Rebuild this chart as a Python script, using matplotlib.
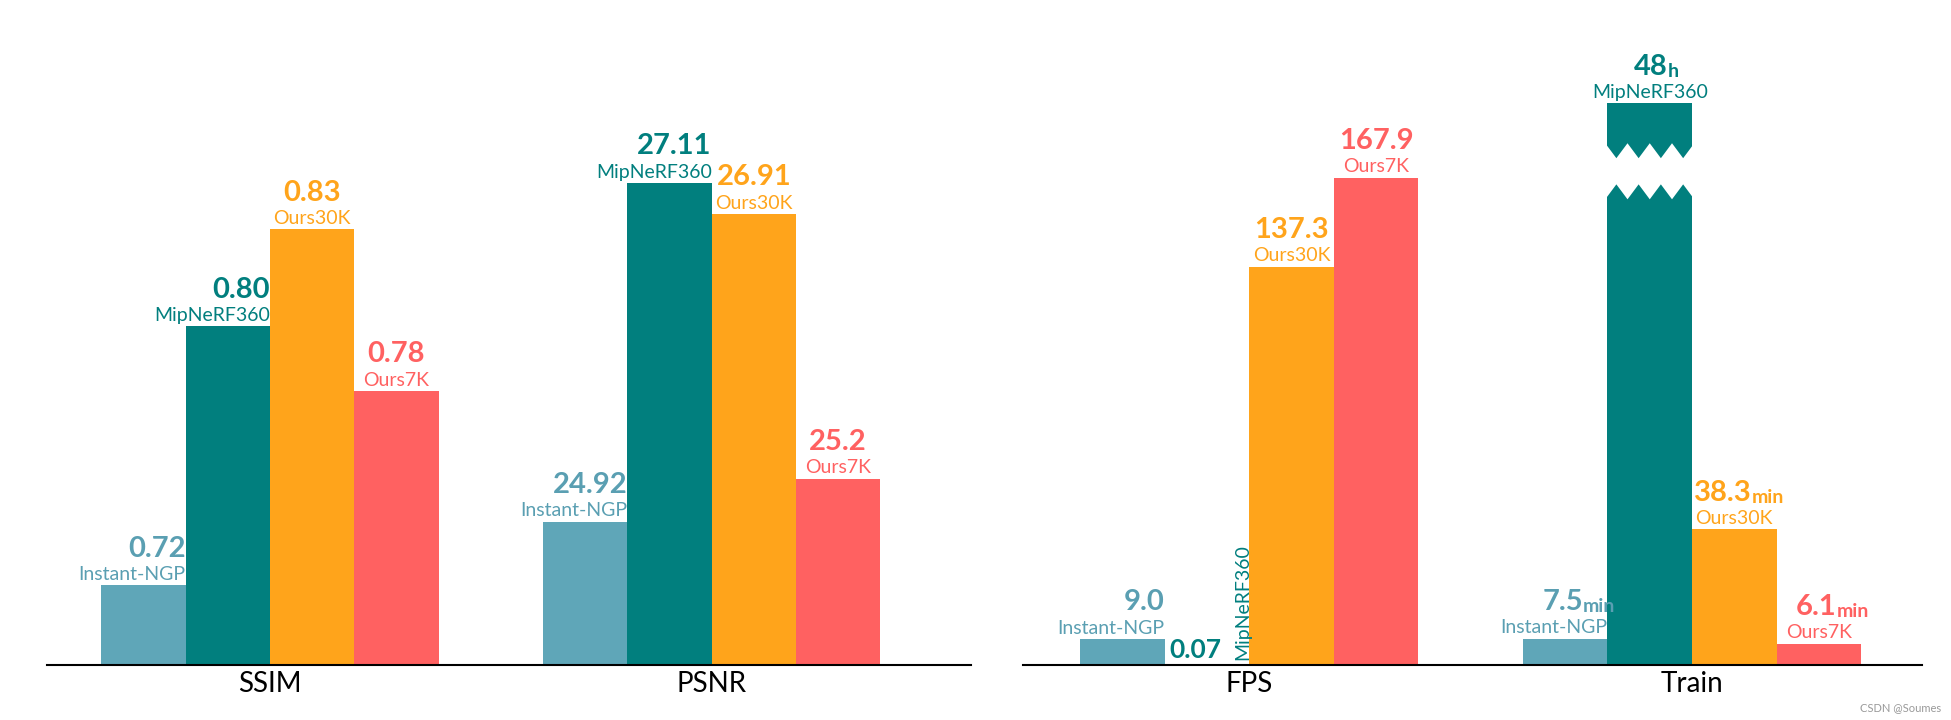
import matplotlib
matplotlib.use("Agg")
import matplotlib.pyplot as plt
from matplotlib.patches import Polygon

plt.rcParams['font.family'] = ['Lato', 'DejaVu Sans']

methods = ["Instant-NGP", "MipNeRF360", "Ours30K", "Ours7K"]
colors = ["#5fa6b8", "#017f7e", "#ffa41b", "#ff6161"]
tcolors = ["#5a9fb2", "#017f7e", "#ffa41b", "#ff6161"]

ssim = [0.72, 0.80, 0.83, 0.78]
psnr = [24.92, 27.11, 26.91, 25.2]
fps = [9.0, 0.07, 137.3, 167.9]
train_min = [7.5, 2880, 38.3, 6.1]
train_labels = ["7.5", "48", "38.3", "6.1"]
train_units = ["min", "h", "min", "min"]

# per-metric scaling to display height (px units of the axis)
def h_ssim(v): return 64 + (v - 0.69 - 0.03) * 2600
def h_psnr(v): return 115 + (v - 24.92) * 124.2
def h_fps(v): return v * 2.33
def h_train(v): return min(v * 2.85, 451)

W, H = 1568, 578
fig = plt.figure(figsize=(19.51, 7.2), dpi=100)
base = 534
axL = fig.add_axes([38 / W, (H - base) / H, 742 / W, base / H])
axR = fig.add_axes([822 / W, (H - base) / H, 723 / W, base / H])

bw = 0.191
offs = [-1.5 * bw, -0.5 * bw, 0.5 * bw, 1.5 * bw]
VF, NF = 21, 14

def setup(ax, xl, cats):
    ax.set_xlim(*xl)
    ax.set_ylim(0, base)
    for s in ["left", "right", "top"]:
        ax.spines[s].set_visible(False)
    ax.spines["bottom"].set_linewidth(1.5)
    ax.set_yticks([])
    ax.set_xticks([0, 1])
    ax.set_xticklabels(cats, fontsize=20)
    ax.tick_params(axis="x", length=0, pad=4)

setup(axL, (-0.504, 1.586), ["SSIM", "PSNR"])
setup(axR, (-0.511, 1.52), ["FPS", "Train"])

def label(ax, x, h, val, name, c, align, unit=None):
    if align == "right":
        xt = x + bw / 2
        ha = "right"
    else:
        xt = x
        ha = "center"
    ax.text(xt, h + 2, name, ha=ha, va="bottom", fontsize=NF, color=c)
    if unit is None:
        ax.text(xt, h + 19, val, ha=ha, va="bottom", fontsize=VF, color=c, fontweight="bold")
    else:
        shift = 0.04 if ha == "center" else -0.055
        ax.text(xt + shift, h + 19, val, ha="right", va="bottom", fontsize=VF, color=c, fontweight="bold")
        ax.text(xt + shift, h + 19, unit, ha="left", va="bottom", fontsize=NF, color=c, fontweight="bold")

aligns = ["right", "right", "center", "center"]
for gi, (vals, fn) in enumerate([(ssim, h_ssim), (psnr, h_psnr)]):
    for i, v in enumerate(vals):
        x = gi + offs[i]
        h = fn(v)
        axL.bar(x, h, bw, color=colors[i])
        txt = f"{v:.2f}" if gi == 0 else (f"{v:.2f}" if v != 25.2 else "25.2")
        label(axL, x, h, txt, methods[i], tcolors[i], aligns[i])

# FPS
for i, v in enumerate(fps):
    x = offs[i]
    h = h_fps(v)
    axR.bar(x, h, bw, color=colors[i])
    if i == 1:
        axR.text(x - bw / 2 + 0.01, h + 2, f"{v:.2f}", ha="left", va="bottom", fontsize=VF - 2,
                 color=tcolors[i], fontweight="bold")
        axR.text(x + bw / 2 + 0.005, h + 4, methods[i], ha="right", va="bottom", rotation=90,
                 fontsize=NF, color=tcolors[i])
    else:
        label(axR, x, h, f"{v:.1f}", methods[i], tcolors[i], aligns[i])

# Train
for i, v in enumerate(train_min):
    x = 1 + offs[i]
    h = h_train(v)
    axR.bar(x, h, bw, color=colors[i])
    al = "right" if i == 0 else "center"
    label(axR, x, h, train_labels[i], methods[i], tcolors[i], al, unit=train_units[i])

# break mark on MipNeRF360 train bar
x0 = 1 + offs[1] - bw / 2 - 0.005
x1 = 1 + offs[1] + bw / 2 + 0.005
n = 4
xs = [x0 + (x1 - x0) * k / (2 * n) for k in range(2 * n + 1)]
top = [419 if k % 2 == 0 else 407 for k in range(2 * n + 1)]
bot = [374 if k % 2 == 0 else 386 for k in range(2 * n + 1)]
pts = list(zip(xs, top)) + list(zip(xs[::-1], bot[::-1]))
axR.add_patch(Polygon(pts, closed=True, facecolor="white", edgecolor="none", zorder=3))

fig.text(0.995, 0.01, "CSDN @Soumes", ha="right", va="bottom", fontsize=8, color="#999999")
fig.savefig("out.png", dpi=100, facecolor="white")
